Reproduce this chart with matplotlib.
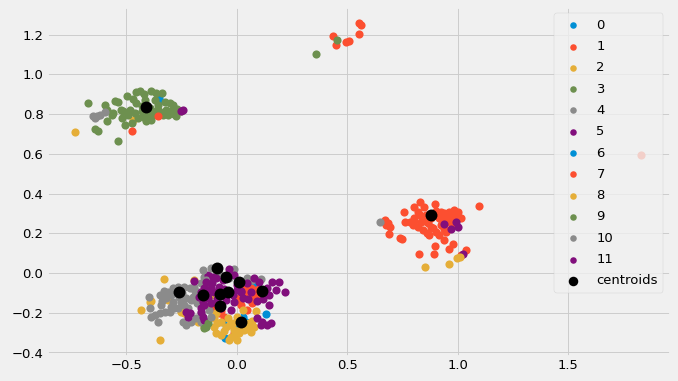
import matplotlib
matplotlib.use("Agg")
import matplotlib.pyplot as plt

plt.style.use("fivethirtyeight")

# cluster members, (x, y)
c0 = [(-0.350, 0.881), (-0.357, 0.867), (0.075, -0.060), (0.048, -0.127),
      (0.026, -0.220), (0.130, -0.208)]
c1 = [(0.670, 0.267), (0.684, 0.250), (0.692, 0.233), (0.677, 0.242), (0.688, 0.195),
      (0.737, 0.174), (0.747, 0.171), (0.756, 0.305), (0.763, 0.255), (0.801, 0.334),
      (0.831, 0.359), (0.849, 0.334), (0.897, 0.347), (0.804, 0.275), (0.797, 0.242),
      (0.819, 0.233), (0.842, 0.216), (0.835, 0.258), (0.864, 0.250), (0.902, 0.292),
      (0.917, 0.275), (0.939, 0.300), (0.962, 0.309), (0.984, 0.317), (0.999, 0.309),
      (1.014, 0.275), (0.977, 0.283), (0.954, 0.258), (0.924, 0.242), (0.902, 0.208),
      (0.917, 0.191), (0.939, 0.166), (0.887, 0.225), (0.872, 0.191), (0.897, 0.137),
      (0.980, 0.144), (0.959, 0.120), (1.037, 0.116), (1.014, 0.091), (0.824, 0.094),
      (0.891, 0.094), (1.098, 0.336), (0.782, 0.258), (0.879, 0.275), (0.939, 0.275),
      (0.969, 0.258), (0.992, 0.275), (0.924, 0.309), (0.947, 0.208), (0.857, 0.292),
      (0.819, 0.309), (0.85, 0.26), (0.88, 0.23), (0.93, 0.26), (0.96, 0.29),
      (0.90, 0.31), (0.83, 0.29), (0.80, 0.26), (0.86, 0.20), (0.94, 0.22),
      (0.98, 0.24), (0.437, 1.192), (0.448, 1.147), (0.493, 1.161), (0.509, 1.167),
      (0.554, 1.259), (0.563, 1.251), (0.554, 1.203), (1.831, 0.594)]
c2 = [(-0.469, 0.771), (-0.731, 0.708), (-0.331, -0.032), (-0.434, -0.186),
      (-0.394, -0.144), (-0.387, -0.140), (-0.349, -0.337), (-0.252, -0.195),
      (-0.237, -0.203), (-0.177, -0.245), (-0.147, -0.270), (-0.192, -0.035),
      (-0.124, -0.077), (-0.311, -0.136), (-0.132, -0.060), (-0.162, -0.136),
      (-0.117, -0.111)]
c3 = [(-0.674, 0.855), (-0.596, 0.844), (-0.589, 0.822), (-0.551, 0.864), (-0.539, 0.859),
      (-0.524, 0.819), (-0.499, 0.889), (-0.458, 0.911), (-0.439, 0.914), (-0.421, 0.901),
      (-0.390, 0.917), (-0.364, 0.906), (-0.337, 0.906), (-0.327, 0.860), (-0.304, 0.855),
      (-0.289, 0.847), (-0.271, 0.827), (-0.277, 0.788), (-0.252, 0.814), (-0.484, 0.822),
      (-0.491, 0.797), (-0.461, 0.805), (-0.446, 0.780), (-0.424, 0.788), (-0.402, 0.797),
      (-0.379, 0.797), (-0.364, 0.814), (-0.394, 0.830), (-0.431, 0.839), (-0.454, 0.855),
      (-0.469, 0.877), (-0.416, 0.872), (-0.372, 0.872), (-0.357, 0.847), (-0.350, 0.814),
      (-0.319, 0.822), (-0.297, 0.814), (-0.387, 0.771), (-0.409, 0.763), (-0.416, 0.780),
      (-0.507, 0.746), (-0.476, 0.755), (-0.566, 0.797), (-0.559, 0.805), (-0.589, 0.763),
      (-0.641, 0.725), (-0.626, 0.713), (-0.536, 0.666), (-0.521, 0.780), (-0.514, 0.814),
      (-0.431, 0.814), (-0.334, 0.797), (-0.311, 0.793), (-0.289, 0.805), (-0.283, 0.800)]
c4 = [(-0.652, 0.788), (-0.634, 0.788), (-0.619, 0.797), (-0.596, 0.809), (-0.641, 0.780),
      (-0.397, -0.122), (-0.394, -0.178), (-0.372, -0.211), (-0.349, -0.111), (-0.342, -0.161),
      (-0.319, -0.127), (-0.311, -0.094), (-0.289, -0.077), (-0.267, -0.069), (-0.237, -0.069),
      (-0.214, -0.077), (-0.192, -0.069), (-0.177, -0.094), (-0.229, -0.127), (-0.207, -0.136),
      (-0.252, -0.144), (-0.289, -0.144), (-0.282, -0.178), (-0.304, -0.195), (-0.326, -0.195),
      (-0.349, -0.203), (-0.244, -0.245), (-0.229, -0.262), (-0.207, -0.245), (-0.184, -0.228),
      (-0.162, -0.203), (-0.162, -0.245), (-0.147, -0.262), (-0.132, -0.015), (-0.132, -0.052),
      (-0.267, -0.178), (-0.222, -0.178), (-0.356, -0.245), (-0.387, -0.220), (-0.30, -0.11),
      (-0.25, -0.10), (-0.20, -0.12), (-0.18, -0.15), (-0.24, -0.16), (-0.30, -0.17),
      (-0.34, -0.14), (-0.21, -0.20), (-0.16, -0.05), (-0.15, -0.02), (-0.19, -0.09),
      (-0.26, -0.12), (-0.33, -0.09)]
c5 = [(-0.245, 0.822), (-0.252, 0.814), (0.936, 0.245), (0.969, 0.220), (0.992, 0.255),
      (1.002, 0.233), (1.022, 0.094), (-0.229, -0.195), (-0.222, -0.220), (-0.214, -0.203),
      (-0.192, -0.040), (-0.169, -0.119), (-0.162, -0.094), (-0.155, -0.144), (-0.162, -0.178),
      (-0.155, -0.220), (-0.147, -0.237), (-0.132, -0.010)]
c6 = [(-0.064, -0.245), (-0.054, -0.328), (-0.005, -0.270), (0.040, -0.245), (0.015, -0.278)]
c7 = [(-0.357, 0.788), (-0.476, 0.713), (0.033, -0.086), (0.063, -0.077), (0.085, -0.086),
      (0.048, -0.111), (0.078, -0.119), (0.108, -0.111), (-0.102, -0.161), (-0.080, -0.203),
      (-0.057, -0.220), (0.018, -0.161), (0.048, -0.186), (0.071, -0.152), (-0.012, -0.303),
      (0.010, -0.127), (-0.117, -0.178), (0.04, -0.07), (0.07, -0.10), (0.10, -0.08),
      (0.09, -0.10), (-0.07, -0.19), (0.00, -0.14)]
c8 = [(0.854, 0.032), (0.959, 0.044), (0.995, 0.074), (1.010, 0.079), (-0.094, -0.203),
      (-0.102, -0.228), (-0.072, -0.245), (-0.042, -0.228), (-0.049, -0.270), (-0.019, -0.253),
      (-0.012, -0.287), (0.010, -0.303), (0.033, -0.287), (0.063, -0.295), (0.078, -0.270),
      (0.055, -0.253), (-0.094, -0.303), (-0.072, -0.312), (-0.027, -0.320), (-0.102, -0.270),
      (0.085, -0.191), (-0.035, -0.337), (0.003, -0.337), (0.026, -0.186), (0.00, -0.22),
      (-0.03, -0.26), (0.02, -0.27), (0.05, -0.28), (-0.06, -0.29), (-0.09, -0.25),
      (0.07, -0.24), (-0.01, -0.30)]
c9 = [(-0.139, -0.270), (-0.132, -0.253), (-0.147, -0.275), (0.360, 1.102), (0.452, 1.171)]
c10 = [(-0.117, 0.024), (-0.154, 0.015), (-0.012, 0.020), (0.048, -0.027), (0.071, -0.035),
       (0.108, -0.030), (-0.124, -0.186), (-0.117, -0.220), (-0.139, -0.035), (-0.080, -0.002),
       (-0.035, -0.027), (0.647, 0.255)]
c11 = [(-0.035, 0.020), (-0.109, -0.019), (-0.094, -0.027), (-0.139, -0.047), (-0.147, -0.077),
       (-0.117, -0.077), (-0.102, -0.094), (-0.132, -0.127), (-0.117, -0.152), (-0.147, -0.161),
       (-0.049, -0.136), (-0.019, -0.111), (-0.012, -0.144), (0.026, -0.127), (0.048, -0.052),
       (0.078, -0.027), (0.100, -0.044), (0.138, -0.077), (0.145, -0.111), (0.160, -0.044),
       (0.193, -0.044), (0.178, -0.086), (0.216, -0.094), (0.145, -0.161), (0.093, -0.228),
       (0.115, -0.245), (0.138, -0.262), (0.156, -0.253), (0.108, -0.262), (-0.072, -0.178),
       (-0.027, -0.186), (-0.080, -0.069), (0.003, -0.086), (0.063, -0.094), (0.018, -0.094),
       (-0.064, -0.035), (-0.012, -0.010), (-0.162, -0.195), (-0.06, -0.08), (-0.03, -0.10),
       (0.00, -0.06), (0.02, -0.09), (-0.09, -0.13), (-0.11, -0.05), (-0.13, -0.10),
       (0.05, -0.13), (0.09, -0.14), (0.12, -0.13)]
clusters = [c0, c1, c2, c3, c4, c5, c6, c7, c8, c9, c10, c11]

cent_x = [-0.409, 0.881, -0.090, -0.049, 0.009, 0.112, -0.260, -0.153, -0.076, -0.040, -0.076, 0.018]
cent_y = [0.835, 0.292, 0.025, -0.020, -0.045, -0.090, -0.096, -0.110, -0.106, -0.096, -0.166, -0.247]

fig = plt.figure(figsize=(10, 5.62), dpi=67.8)
ax = fig.add_axes([0.069, 0.066, 0.919, 0.916])

for i, pts in enumerate(clusters):
    xs, ys = zip(*pts)
    ax.scatter(xs, ys, s=75, linewidths=0, label=str(i))
ax.scatter(cent_x, cent_y, s=160, c="black", linewidths=0, label="centroids")

ax.set_xlim(-0.86, 1.96)
ax.set_ylim(-0.417, 1.34)
ax.legend(loc="upper right", markerscale=0.8, labelspacing=0.63)

fig.savefig("out.png", dpi=67.8)
